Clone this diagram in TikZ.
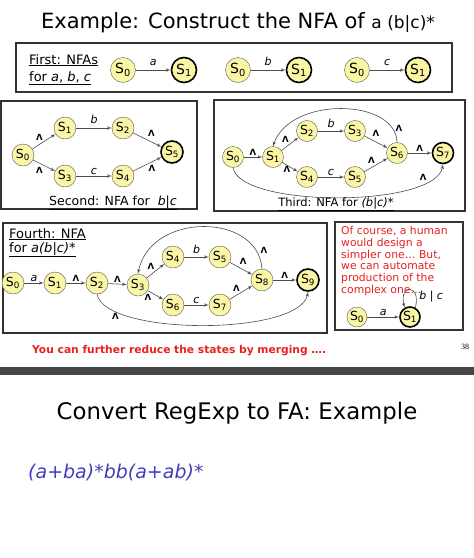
\documentclass[tikz,border=0pt]{standalone}
\usepackage{fontspec}
\setmainfont{DejaVu Sans}
\newfontfamily\pagefont{Liberation Serif}
\usetikzlibrary{arrows}
\definecolor{stfill}{RGB}{250,246,165}
\definecolor{notered}{RGB}{232,32,32}
\definecolor{regblue}{RGB}{64,64,190}
\newcommand{\sn}[1]{S\textsubscript{#1}}
\newcommand{\lmb}{Λ}
\tikzset{
	state/.style={circle, draw=black!65, fill=stfill, inner sep=0pt, minimum size=22pt, font=\fontsize{12.5}{12.5}\selectfont},
	final/.style={state, draw=black, line width=1.6pt},
	edge/.style={->, >=latex', draw=black!70, line width=0.6pt},
	lbl/.style={inner sep=1pt, font=\fontsize{8.5}{8.5}\selectfont\bfseries},
	sym/.style={inner sep=1pt, font=\fontsize{11}{11}\selectfont\itshape},
	panel/.style={draw=black!80, line width=1.2pt, fill=white},
	caption/.style={font=\fontsize{13}{14}\selectfont, align=left, inner sep=0pt}
}

\begin{document}
\begin{tikzpicture}[x=1pt, y=-1pt]
\useasboundingbox (0,0) rectangle (474,558);

% slide 1
\node[font=\fontsize{21}{21}\selectfont] (title) at (238,23) {Example: Construct the NFA of {\fontsize{17}{17}\selectfont a (b|c)*}};

% first: a, b, c
\draw[panel] (16,43) rectangle (452,92);
\node[caption, anchor=north west, font=\fontsize{13}{17}\selectfont] (cap1) at (29,54) {\underline{First: NFAs}\\\underline{for \textit{a}, \textit{b}, \textit{c}}};
\node[state, minimum size=25pt, font=\fontsize{14}{14}\selectfont] (a0) at (123,70) {\sn{0}};
\node[final, minimum size=25pt, font=\fontsize{14}{14}\selectfont] (a1) at (184,70) {\sn{1}};
\node[state, minimum size=25pt, font=\fontsize{14}{14}\selectfont] (b0) at (238,70) {\sn{0}};
\node[final, minimum size=25pt, font=\fontsize{14}{14}\selectfont] (b1) at (299,70) {\sn{1}};
\node[state, minimum size=25pt, font=\fontsize{14}{14}\selectfont] (c0) at (357,70) {\sn{0}};
\node[final, minimum size=25pt, font=\fontsize{14}{14}\selectfont] (c1) at (418,70) {\sn{1}};
\draw[edge] (a0) to node[sym, above=3pt] {a} (a1);
\draw[edge] (b0) to node[sym, above=3pt] {b} (b1);
\draw[edge] (c0) to node[sym, above=3pt] {c} (c1);

% second: b|c
\draw[panel] (1,101) rectangle (197,209);
\node[state] (u0) at (23,155) {\sn{0}};
\node[state] (u1) at (65,128) {\sn{1}};
\node[state] (u2) at (123,128) {\sn{2}};
\node[state] (u3) at (65,176) {\sn{3}};
\node[state] (u4) at (123,176) {\sn{4}};
\node[final] (u5) at (172,152) {\sn{5}};
\draw[edge] (u0) to node[lbl, above left] {\lmb} (u1);
\draw[edge] (u0) to node[lbl, below left] {\lmb} (u3);
\draw[edge] (u1) to node[sym, above=3pt] {b} (u2);
\draw[edge] (u3) to node[sym, above] {c} (u4);
\draw[edge] (u2) to node[lbl, pos=0.45, above right=1pt] {\lmb} (u5);
\draw[edge] (u4) to node[lbl, pos=0.5, below right] {\lmb} (u5);
\node[caption, anchor=base, font=\fontsize{12.5}{12.5}\selectfont] (cap2) at (113,205) {\underline{Second: NFA for \ \textit{b|c}}};

% third: (b|c)*
\draw[panel] (214,100) rectangle (465,211);
\node[state, minimum size=21pt] (v0) at (233,157) {\sn{0}};
\node[state, minimum size=21pt] (v1) at (273,157) {\sn{1}};
\node[state, minimum size=21pt] (v2) at (307,131) {\sn{2}};
\node[state, minimum size=21pt] (v3) at (355,131) {\sn{3}};
\node[state, minimum size=21pt] (v4) at (307,177) {\sn{4}};
\node[state, minimum size=21pt] (v5) at (355,177) {\sn{5}};
\node[state, minimum size=21pt] (v6) at (397,153) {\sn{6}};
\node[final, minimum size=21pt] (v7) at (443,153) {\sn{7}};
\draw[edge] (v0) to node[lbl, above] {\lmb} (v1);
\draw[edge] (v1) to node[lbl, above left] {\lmb} (v2);
\draw[edge] (v1) to node[lbl, pos=0.3, below] {\lmb} (v4);
\draw[edge] (v2) to node[sym, above=2pt] {b} (v3);
\draw[edge] (v4) to node[sym, above] {c} (v5);
\draw[edge] (v3) to node[lbl, above=4pt] {\lmb} (v6);
\draw[edge] (v5) to node[lbl, above left] {\lmb} (v6);
\draw[edge] (v6) to node[lbl, above] {\lmb} (v7);
\draw[edge] (v6.north) .. controls (396,98) and (290,96) .. (v1.north) node[lbl, pos=0.12, right=2pt] {\lmb};
\draw[edge] (v0.south) .. controls (240,208) and (436,208) .. (v7.south) node[lbl, pos=0.82, above=2pt] {\lmb};
\node[caption, anchor=base, font=\fontsize{11.5}{11.5}\selectfont] (cap3) at (336,206) {\underline{Third: NFA for \textit{(b|c)}*}};

% fourth: a(b|c)*
\draw[panel] (3,223) rectangle (327,333);
\node[caption, anchor=north west] (cap4) at (9,228) {\underline{Fourth: NFA}\\\underline{for \textit{a(b|c)}*}};
\node[state] (w0) at (13,283) {\sn{0}};
\node[state] (w1) at (55,283) {\sn{1}};
\node[state] (w2) at (97,283) {\sn{2}};
\node[state] (w3) at (138,285) {\sn{3}};
\node[state] (w4) at (173,257) {\sn{4}};
\node[state] (w5) at (220,257) {\sn{5}};
\node[state] (w6) at (173,305) {\sn{6}};
\node[state] (w7) at (220,305) {\sn{7}};
\node[state] (w8) at (262,280) {\sn{8}};
\node[final] (w9) at (308,280) {\sn{9}};
\draw[edge] (w0) to node[sym, above] {a} (w1);
\draw[edge] (w1) to node[lbl, above] {\lmb} (w2);
\draw[edge] (w2) to node[lbl, above] {\lmb} (w3);
\draw[edge] (w3) to node[lbl, above left] {\lmb} (w4);
\draw[edge] (w3) to node[lbl, pos=0.3, below left] {\lmb} (w6);
\draw[edge] (w4) to node[sym, above=2pt] {b} (w5);
\draw[edge] (w6) to node[sym, above] {c} (w7);
\draw[edge] (w5) to node[lbl, above right=1pt, pos=0.35] {\lmb} (w8);
\draw[edge] (w7) to node[lbl, above left] {\lmb} (w8);
\draw[edge] (w8) to node[lbl, above] {\lmb} (w9);
\draw[edge] (w8.north) .. controls (258,212) and (150,212) .. (w3.north) node[lbl, pos=0.12, right=3pt] {\lmb};
\draw[edge] (w2.south) .. controls (105,336) and (300,336) .. (w9.south) node[lbl, pos=0.17, below] {\lmb};

% the simple one
\draw[panel] (335,222) rectangle (463,330);
\node[caption, anchor=north west, text=notered, font=\fontsize{10.8}{11.8}\selectfont] (note) at (341,226) {Of course, a human\\would design a\\simpler one… But,\\we can automate\\production of the\\complex one…};
\node[state, minimum size=20pt] (h0) at (357,317) {\sn{0}};
\node[final, minimum size=20pt] (h1) at (410,317) {\sn{1}};
\draw[edge] (h0) to node[sym, above] {a} (h1);
\draw[edge] (h1.60) .. controls +(6,-24) and +(-6,-24) .. (h1.120) node[sym, pos=0.2, right=2pt] {b | c};

\node[anchor=west, text=notered, inner sep=0pt, font=\fontsize{10.7}{10.7}\selectfont\bfseries] (merge) at (32,351) {You can further reduce the states by merging ….};
\node[font=\pagefont\fontsize{8}{8}\selectfont] (page) at (465,347) {38};

% slide 2
\fill[black!72] (0,367) rectangle (474,375);
\node[font=\fontsize{22.8}{22.8}\selectfont] (title2) at (237,413) {Convert RegExp to FA: Example};
\node[anchor=west, inner sep=0pt, text=regblue, font=\fontsize{19}{19}\selectfont\itshape] (rexp) at (28,473) {(a+ba)*bb(a+ab)*};
\end{tikzpicture}
\end{document}
